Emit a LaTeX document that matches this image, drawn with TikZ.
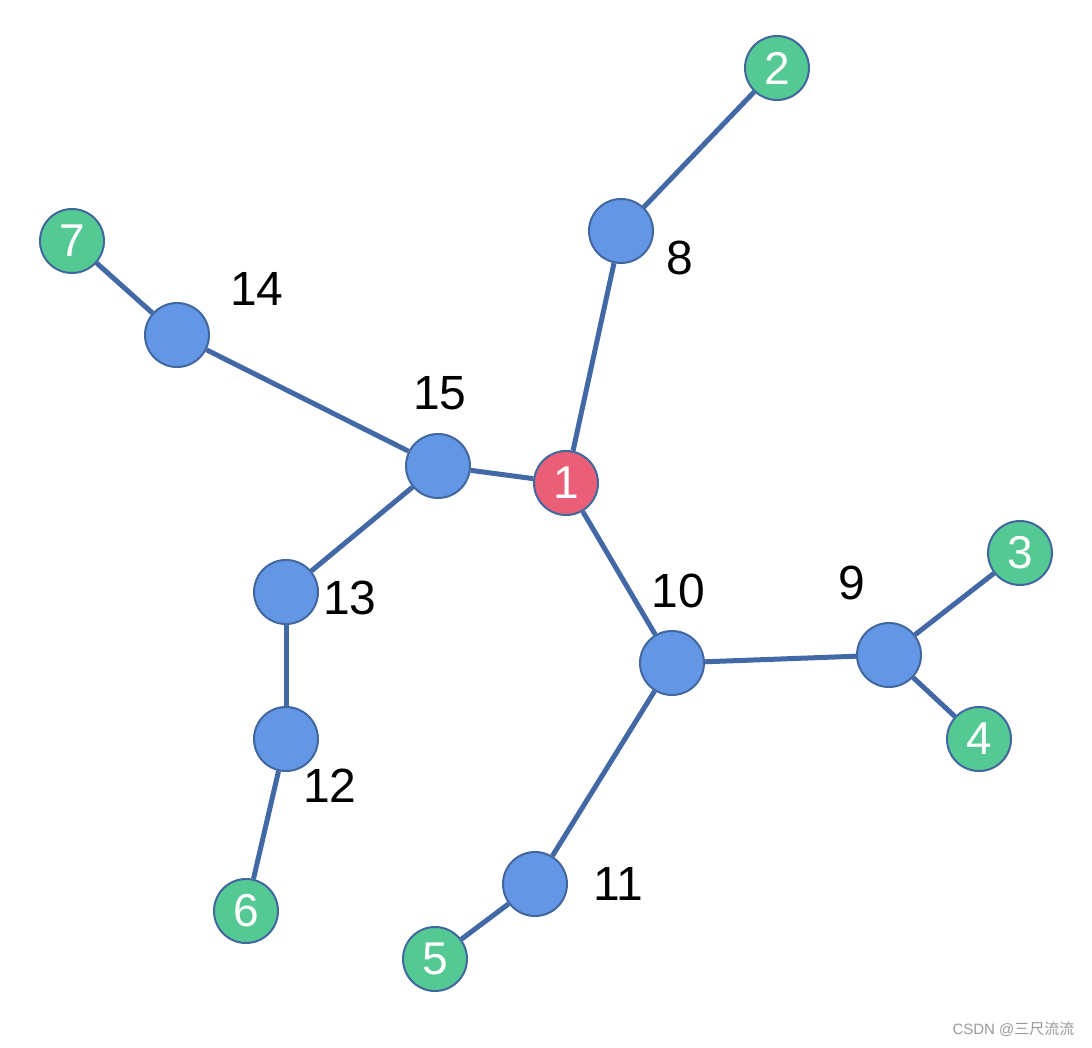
\documentclass[tikz,border=0pt]{standalone}
\usepackage{fontspec}
\setmainfont{Liberation Sans}
\newfontfamily\cjk{Noto Sans CJK SC}
\definecolor{edgec}{HTML}{4268A6}
\definecolor{bordc}{HTML}{41679F}
\definecolor{bluef}{HTML}{6496E6}
\definecolor{greenf}{HTML}{55C994}
\definecolor{redf}{HTML}{EA5F77}
\tikzset{
 vtx/.style={circle,draw=bordc,line width=2pt,minimum size=64pt,inner sep=0pt,text=white,font=\fontsize{46}{46}\selectfont},
 bv/.style={vtx,fill=bluef},
 gv/.style={vtx,fill=greenf},
 rv/.style={vtx,fill=redf},
 lab/.style={font=\fontsize{48}{48}\selectfont,text=black},
 edge/.style={draw=edgec,line width=5pt}
}
\begin{document}
\begin{tikzpicture}[x=1pt,y=-1pt]
\useasboundingbox[fill=white] (0,0) rectangle (1092,1048);
\node[gv] (n2) at (777,68) {2};
\node[bv] (n8) at (621,231) {};
\node[gv] (n7) at (72,241) {7};
\node[bv] (n14) at (177,335) {};
\node[bv] (n15) at (438,466) {};
\node[rv] (n1) at (566,483) {1};
\node[bv] (n13) at (286,592) {};
\node[gv] (n3) at (1020,553) {3};
\node[bv] (n9) at (889,655) {};
\node[bv] (n10) at (672,663) {};
\node[gv] (n4) at (979,739) {4};
\node[bv] (n12) at (286,739) {};
\node[bv] (n11) at (535,884) {};
\node[gv] (n6) at (246,911) {6};
\node[gv] (n5) at (435,959) {5};
\begin{scope}[on background layer/.style={}]
\end{scope}
\foreach \a/\b in {n2/n8,n8/n1,n7/n14,n14/n15,n15/n1,n15/n13,n13/n12,n12/n6,n1/n10,n10/n9,n9/n3,n9/n4,n10/n11,n11/n5}
  \draw[edge] (\a) -- (\b);
\node[lab] (l8) at (680,258) {8};
\node[lab] (l14) at (257,289) {14};
\node[lab] (l15) at (440,393) {15};
\node[lab] (l10) at (678,591) {10};
\node[lab] (l9) at (852,583) {9};
\node[lab] (l13) at (350,598) {13};
\node[lab] (l12) at (330,786) {12};
\node[lab] (l11) at (618,884) {11};
\node[font=\fontsize{15}{15}\selectfont,text=gray!80,anchor=east] (wm) at (1078,1029) {CSDN @{\cjk 三尺流流}};
\end{tikzpicture}
\end{document}
